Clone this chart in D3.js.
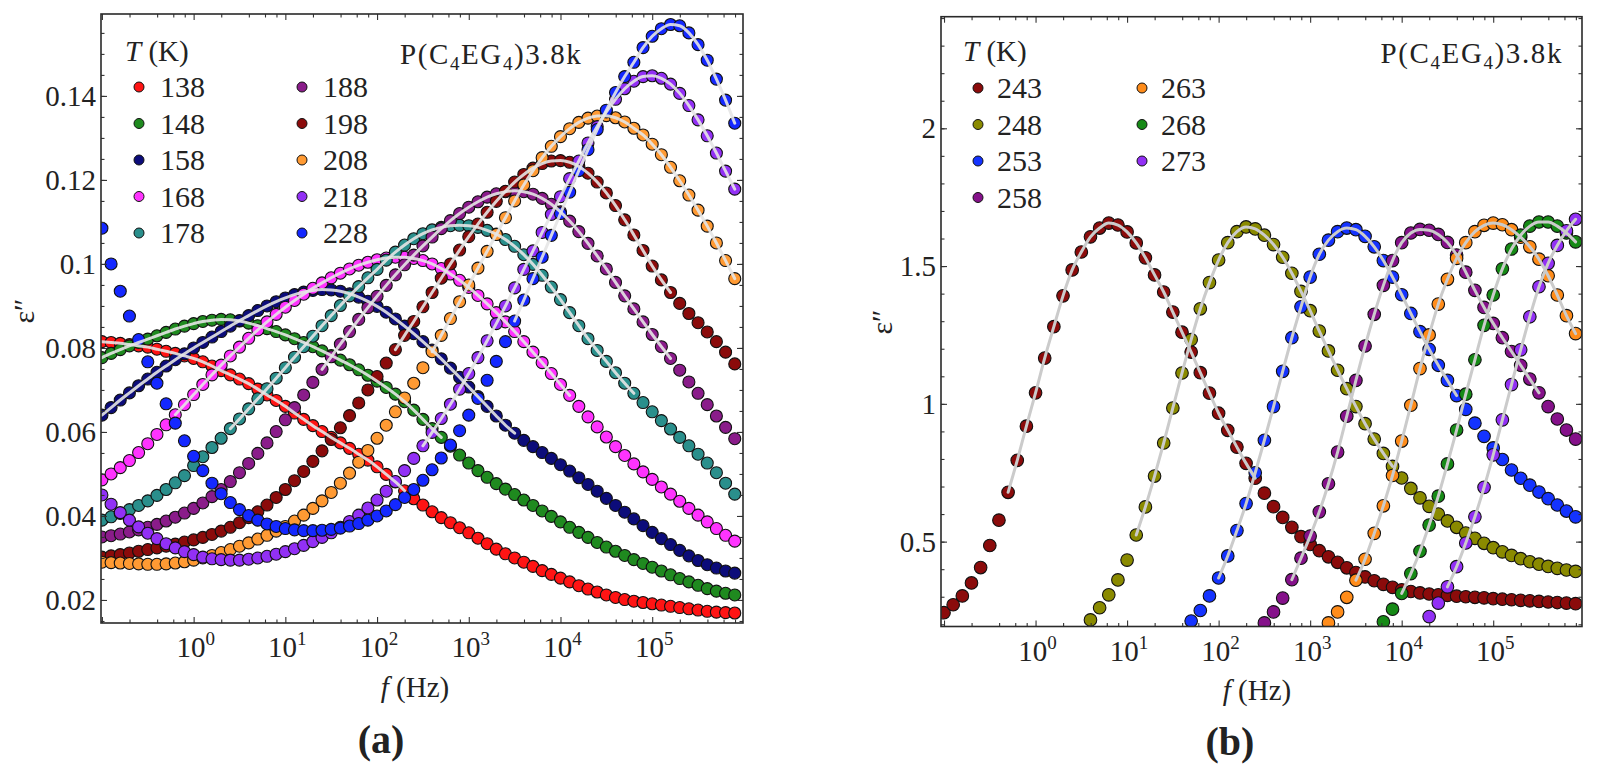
<!DOCTYPE html>
<html>
<head>
<meta charset="utf-8">
<script src="https://cdn.jsdelivr.net/npm/d3@7"></script>
<style>
  body { margin: 0; background: #fff; }
  svg, svg text, svg tspan { font-family: "Liberation Serif", "DejaVu Serif", serif !important; }
  svg text { fill: #222; }
</style>
</head>
<body>
<svg id="fig" width="1600" height="764" font-family="Liberation Serif, DejaVu Serif, serif"></svg>
<script>
// measurement grid, log10(f / Hz)
var logF = [-1.0,-0.9,-0.8,-0.7,-0.6,-0.5,-0.4,-0.3,-0.2,-0.1,
  0.0,0.1,0.2,0.3,0.4,0.5,0.6,0.7,0.8,0.9,
  1.0,1.1,1.2,1.3,1.4,1.5,1.6,1.7,1.8,1.9,
  2.0,2.1,2.2,2.3,2.4,2.5,2.6,2.7,2.8,2.9,
  3.0,3.1,3.2,3.3,3.4,3.5,3.6,3.7,3.8,3.9,
  4.0,4.1,4.2,4.3,4.4,4.5,4.6,4.7,4.8,4.9,
  5.0,5.1,5.2,5.3,5.4,5.5,5.6,5.7,5.8,5.9];

// ---- panel (a): eps'' at 138..228 K, all start at logF[0]
var eps138 = [0.0815,0.0813,0.0811,0.0808,0.0805,0.0802,0.0797,0.0792,0.0787,0.0781,
  0.0775,0.0767,0.0757,0.0746,0.0736,0.0726,0.0715,0.0702,0.0688,0.0675,
  0.0661,0.0645,0.0630,0.0615,0.0601,0.0587,0.0574,0.0561,0.0547,0.0533,
  0.0517,0.0499,0.0481,0.0460,0.0441,0.0426,0.0410,0.0396,0.0384,0.0372,
  0.0360,0.0347,0.0334,0.0321,0.0310,0.0300,0.0290,0.0280,0.0270,0.0261,
  0.0252,0.0243,0.0234,0.0226,0.0219,0.0212,0.0206,0.0201,0.0197,0.0194,
  0.0191,0.0188,0.0185,0.0182,0.0179,0.0176,0.0173,0.0171,0.0170,0.0169];
var eps148 = [0.0777,0.0787,0.0796,0.0805,0.0813,0.0821,0.0829,0.0837,0.0845,0.0852,
  0.0858,0.0863,0.0866,0.0868,0.0867,0.0864,0.0859,0.0853,0.0846,0.0839,
  0.0831,0.0822,0.0813,0.0803,0.0793,0.0782,0.0771,0.0760,0.0748,0.0735,
  0.0721,0.0706,0.0690,0.0672,0.0652,0.0630,0.0608,0.0587,0.0566,0.0545,
  0.0526,0.0508,0.0492,0.0477,0.0464,0.0451,0.0438,0.0425,0.0412,0.0399,
  0.0386,0.0373,0.0361,0.0349,0.0337,0.0326,0.0316,0.0306,0.0296,0.0287,
  0.0278,0.0269,0.0260,0.0251,0.0243,0.0235,0.0227,0.0221,0.0216,0.0212];
var eps158 = [0.0640,0.0658,0.0676,0.0693,0.0710,0.0726,0.0742,0.0757,0.0772,0.0786,
  0.0800,0.0813,0.0826,0.0839,0.0852,0.0865,0.0877,0.0889,0.0900,0.0910,
  0.0919,0.0927,0.0933,0.0937,0.0939,0.0938,0.0935,0.0929,0.0921,0.0911,
  0.0899,0.0885,0.0869,0.0852,0.0834,0.0815,0.0795,0.0774,0.0752,0.0730,
  0.0707,0.0684,0.0661,0.0638,0.0616,0.0597,0.0580,0.0565,0.0551,0.0537,
  0.0522,0.0507,0.0491,0.0475,0.0459,0.0442,0.0425,0.0409,0.0393,0.0377,
  0.0361,0.0346,0.0332,0.0318,0.0305,0.0294,0.0284,0.0276,0.0269,0.0264];
var eps168 = [0.0486,0.0500,0.0515,0.0532,0.0551,0.0572,0.0594,0.0617,0.0641,0.0665,
  0.0689,0.0713,0.0736,0.0759,0.0781,0.0802,0.0823,0.0843,0.0862,0.0880,
  0.0897,0.0913,0.0928,0.0942,0.0955,0.0967,0.0978,0.0988,0.0997,0.1004,
  0.1010,0.1014,0.1016,0.1016,0.1013,0.1008,0.1000,0.0989,0.0976,0.0961,
  0.0944,0.0925,0.0905,0.0884,0.0862,0.0839,0.0815,0.0790,0.0765,0.0739,
  0.0713,0.0687,0.0661,0.0636,0.0612,0.0588,0.0565,0.0544,0.0524,0.0505,
  0.0487,0.0469,0.0452,0.0435,0.0418,0.0402,0.0386,0.0370,0.0354,0.0340];
var eps178 = [0.0390,0.0398,0.0406,0.0415,0.0425,0.0436,0.0449,0.0463,0.0479,0.0496,
  0.0520,0.0541,0.0563,0.0585,0.0608,0.0631,0.0655,0.0679,0.0703,0.0728,
  0.0753,0.0778,0.0803,0.0828,0.0853,0.0877,0.0901,0.0924,0.0946,0.0967,
  0.0987,0.1009,0.1028,0.1045,0.1060,0.1072,0.1081,0.1087,0.1091,0.1092,
  0.1091,0.1087,0.1080,0.1071,0.1058,0.1042,0.1022,0.0999,0.0973,0.0945,
  0.0915,0.0884,0.0853,0.0822,0.0794,0.0768,0.0741,0.0716,0.0692,0.0670,
  0.0648,0.0627,0.0607,0.0587,0.0567,0.0547,0.0526,0.0503,0.0478,0.0452];
var eps188 = [0.0350,0.0353,0.0357,0.0362,0.0367,0.0373,0.0380,0.0388,0.0397,0.0407,
  0.0418,0.0431,0.0446,0.0463,0.0482,0.0503,0.0525,0.0549,0.0574,0.0601,
  0.0629,0.0658,0.0688,0.0718,0.0749,0.0779,0.0809,0.0839,0.0868,0.0896,
  0.0923,0.0949,0.0974,0.0998,0.1021,0.1043,0.1064,0.1084,0.1103,0.1120,
  0.1135,0.1148,0.1159,0.1167,0.1172,0.1174,0.1172,0.1166,0.1156,0.1142,
  0.1124,0.1102,0.1077,0.1049,0.1019,0.0988,0.0956,0.0924,0.0893,0.0862,
  0.0832,0.0803,0.0775,0.0747,0.0719,0.0692,0.0665,0.0638,0.0611,0.0584];
var eps198 = [0.0302,0.0305,0.0308,0.0312,0.0316,0.0320,0.0324,0.0328,0.0333,0.0338,
  0.0343,0.0349,0.0356,0.0364,0.0373,0.0384,0.0396,0.0410,0.0426,0.0444,
  0.0463,0.0484,0.0506,0.0530,0.0555,0.0582,0.0610,0.0639,0.0669,0.0700,
  0.0732,0.0764,0.0796,0.0830,0.0863,0.0898,0.0932,0.0966,0.1000,0.1033,
  0.1065,0.1095,0.1123,0.1149,0.1173,0.1195,0.1213,0.1228,0.1239,0.1245,
  0.1246,0.1242,0.1232,0.1216,0.1195,0.1169,0.1139,0.1105,0.1069,0.1032,
  0.0995,0.0962,0.0932,0.0906,0.0882,0.0860,0.0838,0.0815,0.0790,0.0762];
var eps208 = [0.0290,0.0289,0.0288,0.0287,0.0286,0.0285,0.0285,0.0286,0.0288,0.0291,
  0.0295,0.0300,0.0306,0.0313,0.0320,0.0328,0.0336,0.0345,0.0354,0.0364,
  0.0375,0.0388,0.0402,0.0418,0.0436,0.0456,0.0478,0.0502,0.0528,0.0556,
  0.0585,0.0616,0.0648,0.0681,0.0716,0.0753,0.0791,0.0830,0.0870,0.0910,
  0.0950,0.0990,0.1030,0.1070,0.1110,0.1150,0.1188,0.1222,0.1253,0.1280,
  0.1303,0.1322,0.1337,0.1347,0.1352,0.1353,0.1348,0.1338,0.1323,0.1307,
  0.1285,0.1260,0.1230,0.1198,0.1164,0.1128,0.1090,0.1050,0.1008,0.0965];
var eps218 = [0.0450,0.0428,0.0408,0.0390,0.0374,0.0359,0.0346,0.0334,0.0324,0.0315,
  0.0308,0.0302,0.0298,0.0296,0.0295,0.0295,0.0297,0.0300,0.0304,0.0309,
  0.0315,0.0322,0.0330,0.0339,0.0349,0.0360,0.0373,0.0387,0.0402,0.0419,
  0.0438,0.0459,0.0482,0.0508,0.0537,0.0567,0.0599,0.0632,0.0666,0.0702,
  0.0739,0.0777,0.0817,0.0858,0.0900,0.0943,0.0987,0.1031,0.1075,0.1118,
  0.1160,0.1203,0.1245,0.1288,0.1327,0.1362,0.1392,0.1417,0.1435,0.1446,
  0.1448,0.1442,0.1428,0.1406,0.1377,0.1343,0.1305,0.1264,0.1221,0.1178];
var eps228 = [0.1085,0.1000,0.0935,0.0876,0.0820,0.0767,0.0716,0.0667,0.0621,0.0579,
  0.0542,0.0508,0.0478,0.0453,0.0432,0.0415,0.0401,0.0390,0.0381,0.0375,
  0.0370,0.0367,0.0365,0.0365,0.0366,0.0368,0.0371,0.0376,0.0382,0.0390,
  0.0400,0.0412,0.0427,0.0444,0.0463,0.0485,0.0510,0.0538,0.0569,0.0603,
  0.0640,0.0680,0.0723,0.0768,0.0815,0.0864,0.0914,0.0965,0.1016,0.1068,
  0.1120,0.1171,0.1222,0.1272,0.1320,0.1366,0.1408,0.1446,0.1480,0.1515,
  0.1542,0.1560,0.1570,0.1567,0.1550,0.1522,0.1485,0.1440,0.1390,0.1335];

var tempsA = [138, 148, 158, 168, 178, 188, 198, 208, 218, 228];
var epsA = [eps138, eps148, eps158, eps168, eps178, eps188, eps198, eps208, eps218, eps228];
// log10 f range covered by the fitted curve
var fitA = [[-1, 2.3], [-1, 2.7], [-1, 3.5], [-0.2, 4.1], [0.4, 4.8],
            [1.4, 5.2], [2.2, 5.2], [2.6, 5.9], [2.5, 5.9], [3.5, 5.9]];
var colorsA = ["#ff1414", "#1f8a1f", "#0c0c7a", "#ff33ff", "#2a8f8c",
               "#8a1c8a", "#8b0b0b", "#ff9a33", "#9230f5", "#1428ff"];

// ---- panel (b): eps'' at 243..273 K, first point index into logF
var eps243 = [0.242,0.271,0.303,0.350,0.406,0.486,0.578,0.679,0.795,0.919,
  1.040,1.166,1.280,1.392,1.486,1.551,1.606,1.638,1.656,1.649,
  1.624,1.584,1.530,1.468,1.406,1.333,1.260,1.188,1.113,1.039,
  0.966,0.904,0.843,0.784,0.730,0.676,0.627,0.588,0.552,0.518,
  0.490,0.467,0.445,0.425,0.405,0.388,0.372,0.358,0.345,0.334,
  0.325,0.319,0.314,0.310,0.307,0.305,0.302,0.300,0.298,0.296,
  0.293,0.291,0.289,0.287,0.285,0.283,0.281,0.279,0.277,0.275];
var eps248 = [0.216,0.260,0.307,0.361,0.433,0.524,0.626,0.738,0.858,0.985,
  1.112,1.233,1.345,1.440,1.522,1.585,1.625,1.642,1.635,1.612,
  1.578,1.532,1.474,1.408,1.338,1.264,1.192,1.122,1.055,0.990,
  0.928,0.872,0.820,0.773,0.731,0.693,0.659,0.628,0.600,0.575,
  0.552,0.531,0.512,0.494,0.478,0.463,0.450,0.438,0.427,0.418,
  0.410,0.403,0.397,0.392];
var eps253 = [0.212,0.250,0.303,0.368,0.448,0.540,0.638,0.750,0.868,0.990,
  1.118,1.240,1.352,1.460,1.543,1.594,1.625,1.638,1.632,1.608,
  1.570,1.520,1.460,1.396,1.328,1.262,1.198,1.140,1.085,1.030,
  0.980,0.930,0.882,0.840,0.798,0.760,0.730,0.705,0.680,0.656,
  0.633,0.611,0.590];
var eps258 = [0.205,0.245,0.295,0.362,0.440,0.520,0.608,0.710,0.825,0.955,
  1.085,1.210,1.325,1.430,1.520,1.585,1.620,1.633,1.630,1.615,
  1.586,1.540,1.478,1.412,1.350,1.292,1.240,1.190,1.140,1.090,
  1.040,0.990,0.945,0.905,0.872];
var eps263 = [0.205,0.245,0.298,0.360,0.436,0.530,0.630,0.740,0.865,0.995,
  1.128,1.250,1.362,1.452,1.528,1.585,1.625,1.648,1.656,1.650,
  1.632,1.605,1.570,1.525,1.465,1.395,1.320,1.255];
var eps268 = [0.209,0.255,0.312,0.384,0.465,0.560,0.665,0.782,0.905,1.035,
  1.160,1.285,1.395,1.490,1.562,1.612,1.645,1.660,1.660,1.645,
  1.620,1.588];
var eps273 = [0.228,0.277,0.336,0.409,0.495,0.590,0.697,0.815,0.942,1.070,
  1.196,1.316,1.425,1.510,1.575,1.628,1.670];

var tempsB = [243, 248, 253, 258, 263, 268, 273];
var epsB = [eps243, eps248, eps253, eps258, eps263, eps268, eps273];
var firstB = [0, 16, 27, 35, 42, 48, 53];
var fitB = [[-0.3, 2.4], [1.1, 3.9], [2.0, 4.6], [2.8, 5.5], [3.5, 5.9], [4.0, 5.9], [4.5, 5.9]];
var colorsB = ["#8b0b0b", "#8a8a00", "#1433ff", "#85118a", "#ff8c1a", "#168a16", "#9230f5"];

var decadeLabels = [0, 1, 2, 3, 4, 5];
var yTicksA = [0.02, 0.04, 0.06, 0.08, 0.1, 0.12, 0.14];
var yTicksB = [0.5, 1, 1.5, 2];

var FONT = "Liberation Serif, DejaVu Serif, serif";
var svg = d3.select("#fig");
var defs = svg.append("defs");

function txt(sel) {
    return sel.append("text").attr("font-family", FONT).attr("fill", "#222");
}

function drawPanel(p) {
    var x = d3.scaleLog().domain(p.xDomain).range([p.left, p.right]);
    var y = d3.scaleLinear().domain(p.yDomain).range([p.bottom, p.top]);

    defs.append("clipPath").attr("id", "clip" + p.id)
        .append("rect")
        .attr("x", p.left).attr("y", p.top)
        .attr("width", p.right - p.left).attr("height", p.bottom - p.top);

    var plot = svg.append("g").attr("clip-path", "url(#clip" + p.id + ")");

    var series = p.temps.map(function(T, k) {
        var pts = p.eps[k].map(function(v, i) {
            var L = logF[p.first[k] + i];
            return { f: Math.pow(10, L), L: L, v: v };
        });
        return { T: T, pts: pts, color: p.colors[k], fit: p.fit[k] };
    });

    // data points
    series.forEach(function(s) {
        plot.append("g").selectAll("circle")
            .data(s.pts)
            .enter().append("circle")
            .attr("cx", function(d) { return x(d.f); })
            .attr("cy", function(d) { return y(d.v); })
            .attr("r", p.r)
            .attr("fill", s.color)
            .attr("stroke", "#111")
            .attr("stroke-width", 1.1);
    });

    // fitted curves on top
    var line = d3.line()
        .x(function(d) { return x(d.f); })
        .y(function(d) { return y(d.v); })
        .curve(d3.curveMonotoneX);
    series.forEach(function(s) {
        var seg = s.pts.filter(function(d) { return d.L >= s.fit[0] - 1e-6 && d.L <= s.fit[1] + 1e-6; });
        plot.append("path")
            .datum(seg)
            .attr("d", line)
            .attr("fill", "none")
            .attr("stroke", p.fitColor)
            .attr("stroke-opacity", p.fitOpacity)
            .attr("stroke-width", 3)
            .attr("stroke-linecap", "round");
    });

    // ticks, pointing inward on all four sides
    var xMajor = [0.1, 1, 10, 100, 1e3, 1e4, 1e5, 1e6].filter(function(v) { return v >= p.xDomain[0] && v <= p.xDomain[1]; });
    var xMinor = [];
    [0.1, 1, 10, 100, 1e3, 1e4, 1e5].forEach(function(d) {
        [2, 4, 6, 8].forEach(function(m) {
            if (d * m <= p.xDomain[1]) xMinor.push(d * m);
        });
    });
    var yMajor = p.yTicks;
    var yMinor = d3.range(p.yMinorStart, p.yDomain[1], p.yMinorStep);

    function tickGroup(axis, tx, ty) {
        var g = svg.append("g").attr("transform", "translate(" + tx + "," + ty + ")").call(axis);
        g.select(".domain").remove();
        g.selectAll("line").attr("stroke", "#333").attr("stroke-width", 1.1);
        g.selectAll("text").remove();
    }
    tickGroup(d3.axisBottom(x).tickValues(xMajor).tickSize(-6), 0, p.bottom);
    tickGroup(d3.axisBottom(x).tickValues(xMinor).tickSize(-3.5), 0, p.bottom);
    tickGroup(d3.axisTop(x).tickValues(xMajor).tickSize(-6), 0, p.top);
    tickGroup(d3.axisTop(x).tickValues(xMinor).tickSize(-3.5), 0, p.top);
    tickGroup(d3.axisLeft(y).tickValues(yMajor).tickSize(-6), p.left, 0);
    tickGroup(d3.axisLeft(y).tickValues(yMinor).tickSize(-3.5), p.left, 0);
    tickGroup(d3.axisRight(y).tickValues(yMajor).tickSize(-6), p.right, 0);
    tickGroup(d3.axisRight(y).tickValues(yMinor).tickSize(-3.5), p.right, 0);

    svg.append("rect")
        .attr("x", p.left).attr("y", p.top)
        .attr("width", p.right - p.left).attr("height", p.bottom - p.top)
        .attr("fill", "none").attr("stroke", "#2a2a2a").attr("stroke-width", 1.6);

    // tick labels
    yMajor.forEach(function(d) {
        txt(svg).attr("x", p.left - 5)
            .attr("y", y(d) + 10)
            .attr("text-anchor", "end")
            .attr("font-size", 29)
            .text(String(d));
    });

    decadeLabels.forEach(function(d) {
        var t = txt(svg)
            .attr("x", x(Math.pow(10, d)) + 2)
            .attr("y", p.bottom + 34)
            .attr("text-anchor", "middle")
            .attr("font-size", 29);
        t.append("tspan").text("10");
        t.append("tspan").attr("dy", -12).attr("font-size", 19).text(d);
    });

    // axis titles
    var fl = txt(svg)
        .attr("x", p.fLabel[0]).attr("y", p.fLabel[1])
        .attr("text-anchor", "middle")
        .attr("font-size", 29);
    fl.append("tspan").attr("font-style", "italic").text("f");
    fl.append("tspan").text(" (Hz)");

    txt(svg)
        .attr("transform", "translate(" + p.epsLabel[0] + "," + p.epsLabel[1] + ") rotate(-90)")
        .attr("text-anchor", "middle")
        .attr("dominant-baseline", "central")
        .attr("font-size", 30)
        .text("\u03b5\u2033");

    // sample name
    var nm = txt(svg)
        .attr("x", p.name[0]).attr("y", p.name[1])
        .attr("text-anchor", p.name[2])
        .attr("font-size", 29)
        .attr("letter-spacing", 1.6);
    nm.append("tspan").text("P(C");
    nm.append("tspan").attr("dy", 6).attr("font-size", 19).text("4");
    nm.append("tspan").attr("dy", -6).text("EG");
    nm.append("tspan").attr("dy", 6).attr("font-size", 19).text("4");
    nm.append("tspan").attr("dy", -6).text(")3.8k");

    // legend
    var lg = txt(svg)
        .attr("x", p.legend.x0).attr("y", p.legend.titleY)
        .attr("font-size", 29);
    lg.append("tspan").attr("font-style", "italic").text("T");
    lg.append("tspan").text(" (K)");

    series.forEach(function(s, k) {
        var col = k < p.legend.rows ? 0 : 1;
        var row = k < p.legend.rows ? k : k - p.legend.rows;
        var cy = p.legend.y0 + row * p.legend.dy;
        svg.append("circle")
            .attr("cx", p.legend.mx[col]).attr("cy", cy).attr("r", 5)
            .attr("fill", s.color).attr("stroke", "#111").attr("stroke-width", 1);
        txt(svg)
            .attr("x", p.legend.tx[col]).attr("y", cy + 10)
            .attr("font-size", 30)
            .text(s.T);
    });

    txt(svg)
        .attr("x", p.tag[0]).attr("y", p.tag[1])
        .attr("text-anchor", "middle")
        .attr("font-size", 40)
        .attr("font-weight", "bold")
        .attr("fill", "#111")
        .text(p.tag[2]);
}

drawPanel({
    id: "a",
    left: 101, right: 743, top: 14, bottom: 623,
    xDomain: [Math.pow(10, -1.01), Math.pow(10, 5.99)],
    yDomain: [0.01452, 0.1595],
    yTicks: yTicksA, yMinorStart: 0.015, yMinorStep: 0.005,
    temps: tempsA, eps: epsA, first: tempsA.map(function() { return 0; }),
    fit: fitA, colors: colorsA,
    r: 6, fitColor: "#e6e6e6", fitOpacity: 0.9,
    fLabel: [415, 697], epsLabel: [23, 311],
    name: [400, 64, "start"],
    legend: { x0: 125, titleY: 61, y0: 87, dy: 36.5, rows: 5, mx: [139, 302], tx: [160, 323] },
    tag: [381, 753, "(a)"]
});

drawPanel({
    id: "b",
    left: 941, right: 1582, top: 16.7, bottom: 626.5,
    xDomain: [Math.pow(10, -1.033), Math.pow(10, 5.97)],
    yDomain: [0.192, 2.405],
    yTicks: yTicksB, yMinorStart: 0.2, yMinorStep: 0.1,
    temps: tempsB, eps: epsB, first: firstB,
    fit: fitB, colors: colorsB,
    r: 6.3, fitColor: "#cbcbcb", fitOpacity: 1,
    fLabel: [1257, 700], epsLabel: [881, 322],
    name: [1563, 63, "end"],
    legend: { x0: 963, titleY: 61, y0: 88, dy: 36.5, rows: 4, mx: [978, 1142], tx: [997, 1161] },
    tag: [1230, 755, "(b)"]
});
</script>
</body>
</html>
